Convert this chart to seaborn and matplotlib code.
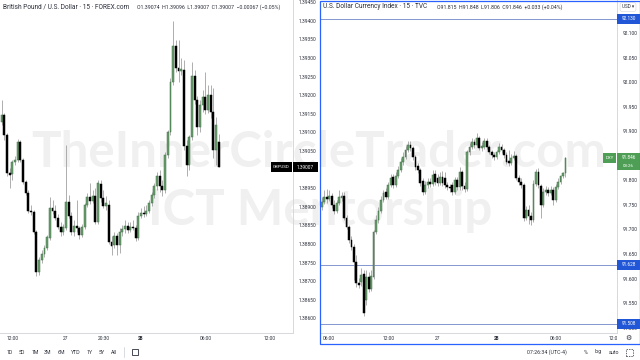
import matplotlib
matplotlib.use("Agg")
import matplotlib.pyplot as plt
from matplotlib.patches import Rectangle
import numpy as np
import pandas as pd
import seaborn as sns

sns.set_theme(style="white")
plt.rcParams['font.family'] = ['Roboto', 'DejaVu Sans']

# ---------------- GBPUSD 15m (bar index 0 = Fri 12:00) ----------------
gb_idx = list(range(-4, 78))
gb_open = [1.39128, 1.39147, 1.39093, 1.38991, 1.38988, 1.39021, 1.39026, 1.39074, 1.39026, 1.38967,
           1.38937, 1.38889, 1.38886, 1.38832, 1.38725, 1.38757, 1.38773, 1.38789, 1.38816, 1.38897,
           1.38889, 1.38870, 1.38846, 1.38832, 1.38843, 1.38913, 1.38875, 1.38832, 1.38849, 1.38843,
           1.38824, 1.38846, 1.38905, 1.38926, 1.38916, 1.38929, 1.38859, 1.38962, 1.38924, 1.38902,
           1.38905, 1.38805, 1.38797, 1.38822, 1.38797, 1.38832, 1.38840, 1.38849, 1.38838, 1.38846,
           1.38843, 1.38816, 1.38875, 1.38883, 1.38881, 1.38889, 1.38910, 1.38932, 1.38956, 1.38983,
           1.38956, 1.38945, 1.39039, 1.39101, 1.39236, 1.39332, 1.39273, 1.39265, 1.39268, 1.39064,
           1.39013, 1.39088, 1.39252, 1.39187, 1.39115, 1.39174, 1.39195, 1.39160, 1.39201, 1.39155,
           1.39053, 1.39074]
gb_high = [1.39187, 1.39152, 1.39099, 1.39004, 1.39026, 1.39037, 1.39082, 1.39080, 1.39031, 1.38972,
           1.38945, 1.38905, 1.38892, 1.38838, 1.38765, 1.38784, 1.38797, 1.38824, 1.38926, 1.38918,
           1.38905, 1.38881, 1.38859, 1.38854, 1.39066, 1.38932, 1.38886, 1.38865, 1.38918, 1.38849,
           1.38854, 1.38910, 1.38937, 1.38964, 1.38945, 1.38951, 1.38972, 1.38972, 1.38945, 1.38929,
           1.38918, 1.38822, 1.38832, 1.38830, 1.38843, 1.38851, 1.38865, 1.38859, 1.38859, 1.38865,
           1.38851, 1.38886, 1.38897, 1.38902, 1.38905, 1.38918, 1.38940, 1.38964, 1.38994, 1.38999,
           1.38972, 1.39047, 1.39107, 1.39246, 1.39400, 1.39348, 1.39348, 1.39300, 1.39295, 1.39080,
           1.39093, 1.39289, 1.39268, 1.39198, 1.39187, 1.39214, 1.39262, 1.39228, 1.39228, 1.39219,
           1.39141, 1.39096]
gb_low = [1.39120, 1.39080, 1.38983, 1.38951, 1.38972, 1.39013, 1.39021, 1.39021, 1.38962, 1.38932,
          1.38883, 1.38878, 1.38827, 1.38714, 1.38717, 1.38749, 1.38765, 1.38784, 1.38811, 1.38881,
          1.38865, 1.38840, 1.38822, 1.38824, 1.38838, 1.38870, 1.38824, 1.38822, 1.38832, 1.38814,
          1.38819, 1.38840, 1.38900, 1.38908, 1.38910, 1.38854, 1.38854, 1.38913, 1.38897, 1.38892,
          1.38800, 1.38771, 1.38789, 1.38771, 1.38776, 1.38822, 1.38830, 1.38830, 1.38832, 1.38838,
          1.38808, 1.38811, 1.38870, 1.38873, 1.38875, 1.38883, 1.38902, 1.38924, 1.38945, 1.38940,
          1.38929, 1.38937, 1.39031, 1.39093, 1.39228, 1.39262, 1.39236, 1.39254, 1.39053, 1.38983,
          1.38999, 1.39080, 1.39176, 1.39093, 1.39101, 1.39155, 1.39150, 1.39152, 1.39139, 1.39031,
          1.39013, 1.39007]
gb_close = [1.39147, 1.39093, 1.38991, 1.38986, 1.39021, 1.39026, 1.39074, 1.39026, 1.38967, 1.38937,
            1.38889, 1.38886, 1.38832, 1.38725, 1.38757, 1.38773, 1.38789, 1.38819, 1.38897, 1.38889,
            1.38870, 1.38846, 1.38832, 1.38846, 1.38913, 1.38875, 1.38832, 1.38849, 1.38843, 1.38824,
            1.38846, 1.38905, 1.38926, 1.38916, 1.38929, 1.38859, 1.38964, 1.38924, 1.38902, 1.38910,
            1.38805, 1.38795, 1.38822, 1.38797, 1.38832, 1.38840, 1.38849, 1.38838, 1.38846, 1.38843,
            1.38816, 1.38875, 1.38883, 1.38881, 1.38889, 1.38910, 1.38932, 1.38956, 1.38983, 1.38956,
            1.38945, 1.39039, 1.39101, 1.39236, 1.39332, 1.39273, 1.39265, 1.39271, 1.39064, 1.39013,
            1.39088, 1.39252, 1.39187, 1.39115, 1.39174, 1.39195, 1.39160, 1.39201, 1.39155, 1.39053,
            1.39120, 1.39007]
gb_ticks = [1.38600, 1.38650, 1.38700, 1.38750, 1.38800, 1.38850, 1.38900, 1.38950, 1.39000,
            1.39050, 1.39100, 1.39150, 1.39200, 1.39250, 1.39300, 1.39350, 1.39400, 1.39450]
gb_time_pos = [0, 20, 34, 48, 72, 96]
gb_time_lab = ["12:00", "27", "20:30", "28", "06:00", "12:00"]

# ---------------- DXY 15m (bar index 0 = Fri 06:00) ----------------
dx_idx = list(range(-3, 97))
dx_open = [91.746, 91.756, 91.766, 91.762, 91.768, 91.750, 91.738, 91.754, 91.764, 91.768,
           91.723, 91.705, 91.678, 91.664, 91.634, 91.591, 91.593, 91.609, 91.556, 91.603,
           91.579, 91.603, 91.695, 91.719, 91.738, 91.760, 91.776, 91.766, 91.791, 91.807,
           91.791, 91.809, 91.821, 91.838, 91.848, 91.862, 91.872, 91.866, 91.848, 91.829,
           91.821, 91.799, 91.776, 91.791, 91.797, 91.793, 91.813, 91.805, 91.795, 91.807,
           91.805, 91.791, 91.787, 91.791, 91.776, 91.801, 91.787, 91.817, 91.789, 91.782,
           91.858, 91.868, 91.878, 91.872, 91.886, 91.866, 91.868, 91.880, 91.868, 91.858,
           91.852, 91.848, 91.858, 91.868, 91.862, 91.852, 91.840, 91.836, 91.846, 91.850,
           91.805, 91.797, 91.791, 91.723, 91.740, 91.727, 91.719, 91.793, 91.817, 91.789,
           91.750, 91.776, 91.780, 91.774, 91.780, 91.760, 91.787, 91.797, 91.809, 91.815]
dx_high = [91.766, 91.780, 91.782, 91.780, 91.774, 91.760, 91.760, 91.780, 91.776, 91.776,
           91.729, 91.709, 91.687, 91.670, 91.648, 91.601, 91.621, 91.617, 91.617, 91.613,
           91.617, 91.699, 91.729, 91.746, 91.768, 91.780, 91.784, 91.797, 91.813, 91.813,
           91.817, 91.829, 91.846, 91.858, 91.870, 91.880, 91.880, 91.870, 91.852, 91.836,
           91.825, 91.805, 91.799, 91.805, 91.805, 91.821, 91.821, 91.813, 91.817, 91.819,
           91.817, 91.797, 91.793, 91.797, 91.807, 91.807, 91.827, 91.821, 91.797, 91.862,
           91.876, 91.886, 91.884, 91.897, 91.891, 91.878, 91.886, 91.886, 91.872, 91.862,
           91.858, 91.862, 91.876, 91.874, 91.866, 91.858, 91.862, 91.854, 91.860, 91.854,
           91.811, 91.805, 91.795, 91.748, 91.750, 91.736, 91.801, 91.823, 91.825, 91.793,
           91.784, 91.789, 91.787, 91.789, 91.787, 91.793, 91.805, 91.811, 91.817, 91.848]
dx_low = [91.740, 91.752, 91.754, 91.758, 91.744, 91.732, 91.734, 91.750, 91.758, 91.719,
          91.701, 91.672, 91.658, 91.597, 91.583, 91.581, 91.585, 91.524, 91.546, 91.572,
          91.575, 91.599, 91.691, 91.713, 91.734, 91.756, 91.762, 91.762, 91.787, 91.784,
          91.787, 91.805, 91.817, 91.831, 91.844, 91.858, 91.860, 91.842, 91.821, 91.815,
          91.789, 91.770, 91.772, 91.784, 91.787, 91.789, 91.791, 91.789, 91.791, 91.789,
          91.784, 91.780, 91.776, 91.770, 91.772, 91.780, 91.780, 91.780, 91.776, 91.778,
          91.852, 91.864, 91.866, 91.868, 91.862, 91.860, 91.864, 91.864, 91.854, 91.846,
          91.842, 91.844, 91.854, 91.856, 91.846, 91.834, 91.829, 91.831, 91.842, 91.801,
          91.791, 91.784, 91.717, 91.719, 91.711, 91.709, 91.715, 91.789, 91.784, 91.723,
          91.746, 91.770, 91.768, 91.770, 91.750, 91.756, 91.782, 91.793, 91.805, 91.806]
dx_close = [91.756, 91.766, 91.762, 91.768, 91.750, 91.738, 91.754, 91.766, 91.768, 91.723,
            91.705, 91.678, 91.664, 91.634, 91.591, 91.587, 91.607, 91.530, 91.603, 91.579,
            91.605, 91.695, 91.719, 91.738, 91.760, 91.774, 91.766, 91.791, 91.805, 91.791,
            91.809, 91.821, 91.838, 91.848, 91.862, 91.872, 91.866, 91.848, 91.827, 91.821,
            91.795, 91.776, 91.791, 91.797, 91.793, 91.811, 91.797, 91.795, 91.807, 91.795,
            91.791, 91.787, 91.784, 91.776, 91.801, 91.787, 91.817, 91.789, 91.782, 91.858,
            91.868, 91.878, 91.872, 91.886, 91.866, 91.870, 91.880, 91.868, 91.858, 91.852,
            91.848, 91.858, 91.868, 91.862, 91.852, 91.838, 91.836, 91.846, 91.850, 91.805,
            91.797, 91.791, 91.723, 91.740, 91.727, 91.719, 91.793, 91.817, 91.791, 91.750,
            91.776, 91.780, 91.774, 91.780, 91.760, 91.787, 91.797, 91.809, 91.815, 91.846]
dx_ticks = [91.500, 91.550, 91.600, 91.650, 91.700, 91.750, 91.800, 91.850, 91.900,
            91.950, 92.000, 92.050, 92.100]
dx_levels = [92.130, 91.628, 91.508]
dx_time_pos = [0, 24, 44, 68, 92, 116]
dx_time_lab = ["06:00", "12:00", "27", "28", "06:00", "12:00"]

gb = pd.DataFrame({"idx": gb_idx, "open": gb_open, "high": gb_high, "low": gb_low, "close": gb_close})
dx = pd.DataFrame({"idx": dx_idx, "open": dx_open, "high": dx_high, "low": dx_low, "close": dx_close})

# ---------------- layout ----------------
W, H = 640, 360
fig = plt.figure(figsize=(6.4, 3.6), dpi=100)
fig.patch.set_facecolor('white')

def rect(x0, y0, x1, y1):
    return [x0 / W, 1 - y1 / H, (x1 - x0) / W, (y1 - y0) / H]

UP, UP_EDGE, DOWN, WICK = '#6a9f6e', '#3e6e44', '#000000', '#999999'
TXT = '#2a2e39'
GRID = '#d6d8de'

def draw_candles(ax, df, minh):
    up = (df['close'] >= df['open']).values
    ax.vlines(df['idx'], df['low'], df['high'], colors=WICK, linewidth=0.55, zorder=2)
    bot = np.minimum(df['open'], df['close']).values
    hgt = np.maximum((df['close'] - df['open']).abs().values, minh)
    x = df['idx'].values
    ax.bar(x[up], hgt[up], width=0.72, bottom=bot[up], color=UP, edgecolor=UP_EDGE,
           linewidth=0.35, zorder=3)
    ax.bar(x[~up], hgt[~up], width=0.72, bottom=bot[~up], color=DOWN, edgecolor=DOWN,
           linewidth=0.35, zorder=3)

def setup(ax, xlim, ylim, ticks, fmt):
    ax.set_facecolor('none')
    ax.set_xlim(*xlim)
    ax.set_ylim(*ylim)
    ax.yaxis.tick_right()
    ax.set_yticks(ticks)
    ax.set_yticklabels([fmt.format(t) for t in ticks], fontsize=3.5, color=TXT)
    ax.tick_params(axis='y', length=0, pad=4)
    ax.set_xticks([])
    ax.grid(False)
    for s in ['top', 'left']:
        ax.spines[s].set_visible(False)
    for s in ['right', 'bottom']:
        ax.spines[s].set_color(GRID)
        ax.spines[s].set_linewidth(0.7)

def time_strip(box, xlim, pos, labs):
    t = fig.add_axes(rect(*box))
    t.set_facecolor('none')
    t.set_xlim(*xlim)
    t.set_ylim(0, 1)
    t.axis('off')
    for p, l in zip(pos, labs):
        t.text(p, 0.5, l, ha='center', va='center', fontsize=3.5, color=TXT,
               fontweight='bold' if l == '28' else 'normal', clip_on=True)

def tag(ax, price, x0, x1, up_px, down_px, fc):
    yd = ax.transData.transform((ax.get_xlim()[0], price))[1]
    fig.add_artist(Rectangle((x0 / W, (yd - down_px) / H), (x1 - x0) / W, (up_px + down_px) / H,
                             transform=fig.transFigure, fc=fc, ec='none', zorder=5))
    return yd

# left panel
axL = fig.add_axes(rect(0, 0, 293, 333))
setup(axL, (-4.59, 104.7), (1.38561, 1.39456), gb_ticks, "{:.5f}")
draw_candles(axL, gb, 2.7e-5)
time_strip((0, 333, 293, 344), (-4.59, 104.7), gb_time_pos, gb_time_lab)

# right panel
axR = fig.add_axes(rect(320, 0, 617, 333))
setup(axR, (-3.78, 116.95), (91.4889, 92.1679), dx_ticks, "{:.3f}")
draw_candles(axR, dx, 0.002)
for lv in dx_levels:
    axR.axhline(lv, color='#6f86c9', linewidth=0.6, zorder=1)
time_strip((320, 333, 617, 344), (-3.78, 116.95), dx_time_pos, dx_time_lab)

# watermark (behind the charts)
def fit_text(x, y, s, target_w):
    t = fig.text(x / W, 1 - y / H, s, ha='center', va='baseline', fontsize=30,
                 family=['Lato', 'DejaVu Sans'], fontweight='bold', color='#f0f0f0', zorder=-5)
    fig.canvas.draw()
    w = t.get_window_extent().width
    t.set_fontsize(30 * target_w / w)
    return t

fit_text(319, 167, "TheInnerCircleTrader.com", 575)
fit_text(320, 225, "ICT Mentorship", 344)

# headers
fig.text(3 / W, 1 - 7 / H, "British Pound / U.S. Dollar · 15 · FOREX.com", fontsize=4.7,
         color=TXT, va='center', ha='left')
fig.text(137 / W, 1 - 7 / H, "O1.39074  H1.39096  L1.39007  C1.39007  −0.00067 (−0.05%)",
         fontsize=3.75, color=TXT, va='center', ha='left')
fig.text(323 / W, 1 - 7 / H, "U.S. Dollar Currency Index · 15 · TVC", fontsize=4.7,
         color=TXT, va='center', ha='left')
fig.text(437 / W, 1 - 7 / H, "O91.815  H91.848  L91.806  C91.846  +0.033 (+0.04%)",
         fontsize=3.75, color=TXT, va='center', ha='left')
fig.text(628 / W, 1 - 7 / H, "USD ▾", fontsize=3.3, color=TXT, va='center', ha='center',
         bbox=dict(boxstyle='round,pad=0.4', fc='white', ec='#d1d4dc', lw=0.4))

# price tags left
y = tag(axL, gb_close[-1], 293, 318, 5, 5, '#000000')
fig.text(305.5 / W, y / H, "1.39007", fontsize=3.4, color='white', ha='center', va='center', zorder=6)
tag(axL, gb_close[-1], 271, 292, 5, 5, '#000000')
fig.text(281.5 / W, y / H, "GBPUSD", fontsize=3.2, color='white', ha='center', va='center', zorder=6)

# price tags right
y = tag(axR, dx_close[-1], 617, 640, 5, 12, '#4e9f55')
fig.text(628.5 / W, y / H, "91.846", fontsize=3.4, color='white', ha='center', va='center', zorder=6)
fig.text(628.5 / W, (y - 8) / H, "03:26", fontsize=3.2, color='white', ha='center', va='center', zorder=6)
tag(axR, dx_close[-1], 603, 616, 5, 5, '#4e9f55')
fig.text(609.5 / W, y / H, "DXY", fontsize=3.2, color='white', ha='center', va='center', zorder=6)
for lv in dx_levels:
    y = tag(axR, lv, 617, 640, 5, 5, '#2157d6')
    fig.text(628.5 / W, y / H, f"{lv:.3f}", fontsize=3.4, color='white', ha='center', va='center', zorder=6)

# active-chart frame
fig.add_artist(Rectangle((319.5 / W, 16.5 / H), 320 / W, 343 / H, transform=fig.transFigure,
                         fc='none', ec='#2962ff', lw=0.9, zorder=7))

# bottom toolbar
for x, s in zip([10, 22, 35, 48, 61, 76, 90, 102, 114],
                ["1D", "5D", "1M", "3M", "6M", "YTD", "1Y", "5Y", "All"]):
    fig.text(x / W, 1 - 352 / H, s, fontsize=3.8, color=TXT, ha='center', va='center')
fig.add_artist(plt.Line2D([124 / W, 124 / W], [1 - 347 / H, 1 - 357 / H], color='#d1d4dc', lw=0.6))
fig.add_artist(Rectangle((132 / W, 1 - 355 / H), 6 / W, 6 / H, transform=fig.transFigure,
                         fc='none', ec=TXT, lw=0.6))
fig.text(547 / W, 1 - 352 / H, "07:26:34 (UTC-4)", fontsize=3.8, color=TXT, ha='center', va='center')
fig.text(586 / W, 1 - 352 / H, "%", fontsize=3.8, color=TXT, ha='center', va='center')
fig.text(598 / W, 1 - 352 / H, "log", fontsize=3.8, color=TXT, ha='center', va='center')
fig.text(614 / W, 1 - 352 / H, "auto", fontsize=3.8, color=TXT, ha='center', va='center')
fig.add_artist(Rectangle((626 / W, 1 - 355.5 / H), 7 / W, 7 / H, transform=fig.transFigure,
                         fc='none', ec=TXT, lw=0.5, ls=(0, (2, 1.5))))
fig.text(628 / W, 1 - 338 / H, "⚙", fontsize=5, color=TXT, ha='center', va='center',
         family=['DejaVu Sans'])

fig.savefig("out.png", dpi=100, facecolor='white')
